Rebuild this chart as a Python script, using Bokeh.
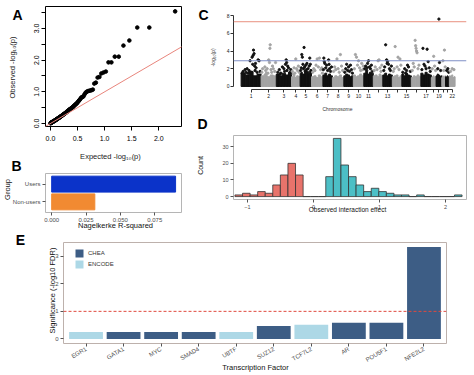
import math
from bokeh.plotting import figure
from bokeh.layouts import column, row
from bokeh.models import (ColumnDataSource, FixedTicker, Span, Range1d, GridBox,
                          FactorRange, Legend, LegendItem, Slope, NumeralTickFormatter)
from bokeh.core.properties import value
from bokeh.embed import file_html
from bokeh.resources import INLINE

FONT = "Liberation Sans"

# ---------------- Panel A: QQ plot ----------------
qq_expected = [2.301, 1.824, 1.602, 1.456, 1.347, 1.260, 1.187, 1.125, 1.071, 1.022,
               0.979, 0.939, 0.903, 0.870, 0.838, 0.809, 0.782, 0.757, 0.733, 0.710,
               0.688, 0.668, 0.648, 0.629, 0.611, 0.594, 0.577, 0.561, 0.545, 0.530,
               0.516, 0.502, 0.488, 0.475, 0.462, 0.449, 0.437, 0.425, 0.413, 0.402,
               0.391, 0.380, 0.370, 0.359, 0.349, 0.339, 0.330, 0.320, 0.311, 0.302,
               0.293, 0.284, 0.276, 0.268, 0.260, 0.252, 0.244, 0.236, 0.229, 0.221,
               0.214, 0.207, 0.200, 0.193, 0.186, 0.180, 0.173, 0.167, 0.161, 0.155,
               0.149, 0.143, 0.137, 0.131, 0.125, 0.120, 0.114, 0.109, 0.104, 0.098,
               0.093, 0.088, 0.083, 0.078, 0.073, 0.068, 0.063, 0.058, 0.053, 0.048,
               0.043, 0.039, 0.034, 0.029, 0.025, 0.020, 0.016, 0.011, 0.007, 0.002]
qq_observed = [3.54, 3.03, 3.03, 2.62, 2.46, 2.11, 2.11, 1.93, 1.93, 1.64,
               1.61, 1.58, 1.47, 1.45, 1.29, 1.26, 1.07, 1.05, 1.04, 1.03,
               1.02, 1.00, 0.97, 0.92, 0.86, 0.84, 0.83, 0.80, 0.76, 0.73,
               0.70, 0.67, 0.64, 0.62, 0.60, 0.58, 0.56, 0.54, 0.52, 0.50,
               0.49, 0.47, 0.46, 0.45, 0.44, 0.42, 0.41, 0.39, 0.38, 0.37,
               0.35, 0.34, 0.33, 0.32, 0.31, 0.30, 0.29, 0.28, 0.27, 0.26,
               0.25, 0.24, 0.235, 0.225, 0.215, 0.21, 0.20, 0.19, 0.185, 0.18,
               0.17, 0.165, 0.16, 0.15, 0.145, 0.14, 0.13, 0.125, 0.12, 0.11,
               0.105, 0.10, 0.095, 0.09, 0.085, 0.08, 0.075, 0.07, 0.065, 0.06,
               0.055, 0.05, 0.045, 0.04, 0.035, 0.03, 0.025, 0.02, 0.015, 0.005]

# ---------------- Panel B: Nagelkerke R2 ----------------
b_groups = ["Users", "Non-users"]
b_values = [0.0902, 0.0314]
b_colors = ["#0B33C9", "#F18A32"]

# ---------------- Panel C: Manhattan ----------------
chrom_names = [str(i) for i in range(1, 23)]
chrom_shown = ["1", "2", "3", "4", "5", "6", "7", "8", "9", "10", "11",
               "13", "15", "17", "19", "22"]
chrom_bounds = [0, 21, 37, 53, 62, 74, 86, 96, 108, 118, 129, 139, 149, 159,
                169, 179, 189, 200, 205, 211, 215, 219, 225]
# dense band height along each chromosome (five stretches each)
chrom_bulk = [
    [1.5, 1.3, 1.7, 1.2, 1.4], [1.2, 1.4, 1.1, 1.3, 1.2], [1.4, 1.2, 1.5, 1.3, 1.6],
    [1.1, 1.3, 1.0, 1.2, 1.1], [1.6, 1.4, 1.8, 1.5, 1.7], [1.1, 1.2, 1.0, 1.3, 1.1],
    [1.3, 1.5, 1.2, 1.4, 1.2], [1.0, 1.2, 1.1, 1.3, 1.0], [1.2, 1.4, 1.3, 1.1, 1.2],
    [1.3, 1.1, 1.2, 1.4, 1.2], [1.5, 1.7, 1.4, 1.6, 1.5], [1.2, 1.3, 1.1, 1.4, 1.2],
    [1.3, 1.5, 1.2, 1.4, 1.3], [1.1, 1.2, 1.3, 1.0, 1.2], [1.4, 1.2, 1.5, 1.3, 1.2],
    [1.0, 1.2, 1.1, 1.3, 1.1], [1.5, 1.3, 1.6, 1.4, 1.3], [1.0, 1.1, 1.2, 1.0, 1.1],
    [1.2, 1.4, 1.3, 1.1, 1.2], [1.0, 1.2, 1.1, 1.0, 1.2], [1.1, 1.0, 1.2, 1.1, 1.0],
    [1.2, 1.1, 1.3, 1.0, 1.1],
]
chrom_points = [
    [(0.05, 1.5), (0.1, 1.7), (0.15, 1.4), (0.2, 1.9), (0.25, 1.6), (0.3, 2.0), (0.35, 1.5),
     (0.4, 1.8), (0.45, 2.9), (0.5, 1.6), (0.55, 3.3), (0.6, 3.5), (0.62, 4.1), (0.65, 3.7),
     (0.68, 2.3), (0.7, 1.8), (0.75, 2.1), (0.8, 1.6), (0.85, 3.0), (0.9, 2.9), (0.95, 1.7),
     (0.58, 2.5), (0.72, 2.6)],
    [(0.05, 1.6), (0.1, 2.0), (0.58, 4.3), (0.6, 4.7), (0.5, 3.0), (0.25, 2.2), (0.3, 1.8),
     (0.4, 2.0), (0.45, 1.5), (0.55, 2.7), (0.65, 1.9), (0.7, 1.6), (0.8, 2.0), (0.9, 1.7),
     (0.95, 2.7), (0.35, 1.5), (0.75, 2.3)],
    [(0.1, 1.6), (0.2, 1.9), (0.3, 1.5), (0.4, 2.2), (0.5, 2.0), (0.55, 1.7), (0.6, 2.5),
     (0.65, 3.0), (0.68, 2.7), (0.7, 1.8), (0.8, 2.1), (0.9, 1.6), (0.95, 1.9), (0.25, 1.4),
     (0.75, 2.3)],
    [(0.1, 1.7), (0.3, 2.1), (0.4, 1.5), (0.5, 3.1), (0.6, 2.0), (0.7, 1.8), (0.8, 2.3),
     (0.9, 1.6), (0.2, 1.4)],
    [(0.05, 1.8), (0.1, 2.1), (0.15, 3.6), (0.2, 3.3), (0.25, 2.5), (0.3, 2.0), (0.35, 4.4),
     (0.4, 2.2), (0.45, 1.7), (0.5, 2.4), (0.55, 1.9), (0.6, 2.6), (0.7, 2.0), (0.8, 2.3),
     (0.85, 3.2), (0.9, 2.5), (0.95, 1.8), (0.65, 1.6)],
    [(0.1, 1.6), (0.2, 2.0), (0.3, 1.8), (0.4, 2.4), (0.5, 3.1), (0.6, 2.2), (0.7, 3.2),
     (0.8, 1.9), (0.9, 2.1), (0.95, 1.5)],
    [(0.1, 3.2), (0.15, 2.8), (0.2, 2.6), (0.3, 2.1), (0.4, 2.4), (0.5, 1.8), (0.6, 3.0),
     (0.65, 2.5), (0.7, 2.0), (0.8, 1.7), (0.9, 2.2), (0.05, 1.9)],
    [(0.1, 1.7), (0.2, 2.2), (0.3, 1.9), (0.4, 3.1), (0.5, 2.0), (0.6, 1.6), (0.7, 3.6),
     (0.8, 2.3), (0.9, 1.8)],
    [(0.1, 1.6), (0.2, 2.0), (0.3, 2.5), (0.4, 1.8), (0.5, 2.2), (0.6, 1.7), (0.7, 2.4),
     (0.8, 1.9), (0.9, 1.5)],
    [(0.1, 2.0), (0.2, 3.6), (0.3, 3.3), (0.4, 2.4), (0.5, 2.9), (0.6, 2.1), (0.7, 1.8),
     (0.8, 2.6), (0.9, 1.9), (0.95, 2.3)],
    [(0.1, 2.0), (0.2, 2.3), (0.3, 1.8), (0.4, 2.6), (0.5, 2.9), (0.6, 2.2), (0.7, 2.0),
     (0.8, 2.4), (0.9, 1.7), (0.35, 2.1)],
    [(0.1, 1.8), (0.2, 2.2), (0.4, 1.9), (0.5, 2.9), (0.6, 3.0), (0.7, 2.1), (0.8, 1.7),
     (0.9, 2.4)],
    [(0.1, 1.8), (0.2, 2.2), (0.3, 4.7), (0.4, 3.0), (0.5, 2.8), (0.6, 2.5), (0.7, 2.0),
     (0.8, 1.8), (0.9, 2.3), (0.45, 2.6)],
    [(0.1, 1.7), (0.3, 4.5), (0.5, 2.2), (0.6, 3.3), (0.7, 1.9), (0.8, 3.1), (0.9, 2.4),
     (0.2, 2.0)],
    [(0.1, 1.6), (0.3, 2.0), (0.5, 1.8), (0.7, 2.2), (0.9, 1.7), (0.4, 1.5), (0.6, 2.4)],
    [(0.2, 2.6), (0.4, 5.2), (0.45, 4.6), (0.5, 4.3), (0.55, 4.0), (0.6, 3.8), (0.3, 2.2),
     (0.7, 2.0), (0.8, 2.4), (0.1, 1.8)],
    [(0.1, 1.9), (0.2, 4.3), (0.4, 2.3), (0.5, 2.0), (0.6, 4.2), (0.7, 2.8), (0.8, 2.1),
     (0.9, 1.7), (0.3, 2.5)],
    [(0.2, 2.0), (0.5, 3.4), (0.7, 2.3), (0.9, 1.8)],
    [(0.3, 2.0), (0.5, 7.6), (0.6, 2.7), (0.8, 1.8)],
    [(0.3, 2.9), (0.5, 1.8), (0.7, 4.1), (0.9, 2.2)],
    [(0.3, 1.8), (0.6, 2.0), (0.8, 1.6)],
    [(0.2, 1.7), (0.5, 2.0), (0.8, 1.9)],
]
genome_wide_line = 7.3
suggestive_line = 2.9

# ---------------- Panel D: histogram ----------------
d_bin_left = [-1.190, -1.075, -0.961, -0.846, -0.731, -0.617, -0.502, -0.387, -0.272, -0.158,
              -0.043, 0.072, 0.186, 0.301, 0.416, 0.531, 0.645, 0.760, 0.875, 0.989,
              1.104, 1.219, 1.333, 1.448, 1.563, 1.677, 1.792, 1.907, 2.021, 2.136]
d_bin_width = 0.1147
d_counts = [1, 2, 1, 3, 2, 7, 13, 20, 13, 0, 0, 0, 12, 35, 19, 12, 7, 3, 5, 3,
            2, 1, 1, 0, 1, 0, 0, 0, 0, 1]

# ---------------- Panel E: TF enrichment ----------------
e_tf = ["EGR1", "GATA1", "MYC", "SMAD4", "UBTF", "SUZ12", "TCF7L2", "AR", "POU5F1", "NFE2L2"]
e_sig = [0.25, 0.25, 0.25, 0.25, 0.25, 0.47, 0.51, 0.59, 0.59, 3.34]
e_db = ["ENCODE", "CHEA", "CHEA", "CHEA", "ENCODE", "CHEA", "ENCODE", "CHEA", "CHEA", "CHEA"]
e_db_colors = {"CHEA": "#3D5D85", "ENCODE": "#ADD8E6"}
e_threshold = 1.0

W, H = 474, 375


def make_fig(g, **kw):
    w, h, l, r, t, b = g
    p = figure(width=w, height=h, min_border_left=l, min_border_right=r,
               min_border_top=t, min_border_bottom=b, toolbar_location=None,
               output_backend="svg", **kw)
    p.xgrid.visible = False
    p.ygrid.visible = False
    p.background_fill_color = "white"
    p.border_fill_color = "white"
    return p


def style_axes(p, size, color, tick_color, tick_out=3, standoff=2):
    for ax in p.axis:
        ax.axis_line_color = None
        ax.major_tick_in = 0
        ax.major_tick_out = tick_out
        ax.minor_tick_line_color = None
        ax.major_tick_line_color = tick_color
        ax.major_label_text_font = FONT
        ax.major_label_text_font_size = f"{size}px"
        ax.major_label_text_color = color
        ax.major_label_standoff = standoff


# ---- A ----
gA = (190, 160, 43, 9, 6, 34)
pA = make_fig(gA, x_range=Range1d(-0.091, 2.418), y_range=Range1d(-0.095, 3.694))
pA.outline_line_color = "black"
pA.outline_line_alpha = 1
pA.scatter(qq_expected, qq_observed, size=3.6, color="black", marker="circle")
pA.add_layout(Slope(gradient=1, y_intercept=0, line_color="#E8857C", line_width=1))
style_axes(pA, 7, "black", "black", 4, 2)
pA.xaxis.ticker = FixedTicker(ticks=[0, 0.5, 1, 1.5, 2])
pA.xaxis.formatter = NumeralTickFormatter(format="0.0")
pA.xaxis.major_label_standoff = 5
pA.yaxis.ticker = FixedTicker(ticks=[0, 1, 2, 3], minor_ticks=[0.5, 1.5, 2.5, 3.5])
pA.yaxis.formatter = NumeralTickFormatter(format="0.0")
pA.yaxis.minor_tick_line_color = "black"
pA.yaxis.minor_tick_in = 0
pA.yaxis.minor_tick_out = 4
pA.yaxis.major_label_orientation = "vertical"

# ---- B ----
gB = (190, 72, 45, 6, 13, 20)
pB = make_fig(gB, x_range=Range1d(-0.0045, 0.0945),
              y_range=FactorRange(factors=list(reversed(b_groups)), range_padding=0.1,
                                  range_padding_units="absolute"))
pB.outline_line_color = "#B5B5B5"
pB.hbar(y=b_groups, right=b_values, left=0, height=0.9, color=b_colors)
style_axes(pB, 6, "#4D4D4D", "#555555", 3, 2)
pB.xaxis.ticker = FixedTicker(ticks=[0, 0.025, 0.05, 0.075])
pB.xaxis.formatter = NumeralTickFormatter(format="0.000")

# ---- C ----
gC = (284, 115, 32, 7, 12, 26)
pC = make_fig(gC, x_range=Range1d(-8, 237), y_range=Range1d(-0.34, 8.34))
pC.outline_line_color = None
chrom_colors = ["#111111", "#A3A3A3"]
q_left, q_right, q_top, q_col = [], [], [], []
m_x, m_y, m_col = [], [], []
for i in range(22):
    s, e = chrom_bounds[i], chrom_bounds[i + 1]
    col = chrom_colors[i % 2]
    prof = chrom_bulk[i]
    step = (e - s) / len(prof)
    for k, hgt in enumerate(prof):
        q_left.append(s + k * step)
        q_right.append(s + (k + 1) * step)
        q_top.append(hgt)
        q_col.append(col)
    for f, y in chrom_points[i]:
        m_x.append(s + f * (e - s))
        m_y.append(y)
        m_col.append(col)
pC.quad(left=q_left, right=q_right, bottom=0, top=q_top, color=q_col)
pC.scatter(m_x, m_y, size=2.3, color=m_col, marker="circle")
pC.add_layout(Span(location=genome_wide_line, dimension="width", line_color="#E8907F", line_width=1))
pC.add_layout(Span(location=suggestive_line, dimension="width", line_color="#7F8FC6", line_width=1))
mids = [(chrom_bounds[i] + chrom_bounds[i + 1]) / 2 for i in range(22)]
major = [mids[i] for i in range(22) if chrom_names[i] in chrom_shown]
minor = [mids[i] for i in range(22) if chrom_names[i] not in chrom_shown]
style_axes(pC, 5, "#222222", "#333333", 3, 1)
pC.xaxis.ticker = FixedTicker(ticks=major, minor_ticks=minor)
pC.xaxis.major_label_overrides = {m: chrom_names[mids.index(m)] for m in major}
pC.xaxis.minor_tick_line_color = "#333333"
pC.xaxis.minor_tick_in = 0
pC.xaxis.minor_tick_out = 3
pC.xaxis.axis_line_color = "#333333"
pC.xaxis.bounds = (mids[0], mids[-1])
pC.yaxis.ticker = FixedTicker(ticks=[0, 2, 4, 6, 8])
pC.yaxis.axis_line_color = "#333333"
pC.yaxis.bounds = (0, 8)

# ---- D ----
gD = (284, 117, 43, 8, 20, 33)
pD = make_fig(gD, x_range=Range1d(-1.212, 2.318), y_range=Range1d(-1.75, 36.75))
pD.outline_line_color = "#B5B5B5"
d_right = [x + d_bin_width for x in d_bin_left]
d_fill = ["#E8736B" if x + d_bin_width / 2 < 0 else "#4CBFC6" for x in d_bin_left]
pD.quad(left=d_bin_left, right=d_right, bottom=0, top=d_counts, fill_color=d_fill,
        line_color="#333333", line_width=0.8)
style_axes(pD, 5.5, "#4D4D4D", "#555555", 3, 2)
pD.xaxis.ticker = FixedTicker(ticks=[-1, 0, 1, 2])
pD.yaxis.ticker = FixedTicker(ticks=[0, 10, 20, 30])

# ---- E ----
gE = (474, 143, 63, 28, 10, 32)
pE = make_fig(gE, x_range=FactorRange(factors=e_tf, range_padding=0.1,
                                      range_padding_units="absolute"),
              y_range=Range1d(-0.167, 3.5))
pE.outline_line_color = "#BDB1AC"
rends = {}
for db in ["CHEA", "ENCODE"]:
    xs = [t for t, d in zip(e_tf, e_db) if d == db]
    ys = [v for v, d in zip(e_sig, e_db) if d == db]
    src = ColumnDataSource(dict(x=xs, top=ys))
    rends[db] = pE.vbar(x="x", top="top", bottom=0, width=0.9, source=src,
                        fill_color=e_db_colors[db], line_color=None)
pE.add_layout(Span(location=e_threshold, dimension="width", line_color="#E04A3F",
                   line_dash="3 2", line_width=1))
style_axes(pE, 6, "#4D4D4D", "#555555", 3, 2)
pE.yaxis.ticker = FixedTicker(ticks=[0, 1, 2, 3])
pE.xaxis.major_label_orientation = math.pi / 6
leg = Legend(items=[LegendItem(label="CHEA", renderers=[rends["CHEA"]]),
                    LegendItem(label="ENCODE", renderers=[rends["ENCODE"]])],
             location=(11, 74), orientation="vertical", glyph_width=10, glyph_height=10,
             label_height=10, label_standoff=4, spacing=1, padding=0, margin=0,
             border_line_color=None, background_fill_alpha=0,
             label_text_font=FONT, label_text_font_size="6px", label_text_color="#333333")
pE.add_layout(leg)

# ---- overlay with panel letters and axis titles (canvas pixel positions) ----
texts = [
    ("A", 17, 14, 14, 0, "bold", "black"),
    ("Observed  -log\u2081\u2080(p)", 12, 66, 7.5, 90, "normal", "#222222"),
    ("Expected  -log\u2081\u2080(p)", 111, 156, 7.5, 0, "normal", "#222222"),
    ("B", 16, 165, 14, 0, "bold", "black"),
    ("Group", 7, 189, 7.5, 90, "normal", "#111111"),
    ("Nagelkerke R-squared", 115, 225, 7.5, 0, "normal", "#111111"),
    ("C", 203, 14, 14, 0, "bold", "black"),
    ("-log\u2081\u2080(p)", 212, 57, 5, 90, "normal", "#333333"),
    ("Chromosome", 337, 108, 5, 0, "normal", "#333333"),
    ("D", 202, 123, 14, 0, "bold", "black"),
    ("Count", 200, 165, 7, 90, "normal", "#111111"),
    ("Observed interaction effect", 347, 209, 6.5, 0, "normal", "#111111"),
    ("E", 20, 239, 14, 0, "bold", "black"),
    ("Significance (-log10 FDR)", 52, 290, 7.5, 90, "normal", "#111111"),
    ("Transcription Factor", 255, 367, 7.5, 0, "normal", "#111111"),
]
ov = figure(width=W, height=H, x_range=Range1d(0, W), y_range=Range1d(0, H),
            min_border=0, toolbar_location=None, output_backend="svg",
            x_axis_type=None, y_axis_type=None)
ov.outline_line_color = None
ov.background_fill_color = None
ov.border_fill_color = None
ov.grid.visible = False
for s, cx, cy, size, ang, style, col in texts:
    ov.text(x=[cx], y=[H - cy], text=[s], text_font=value(FONT),
            text_font_size=value(f"{size}px"), text_font_style=style,
            text_color=col, text_align="center", text_baseline="middle",
            angle=math.radians(ang))

main = column(row(column(pA, pB), column(pC, pD)), pE)
grid = GridBox(children=[(main, 0, 0), (ov, 0, 0)])
open("out.html", "w").write(file_html(grid, INLINE))
